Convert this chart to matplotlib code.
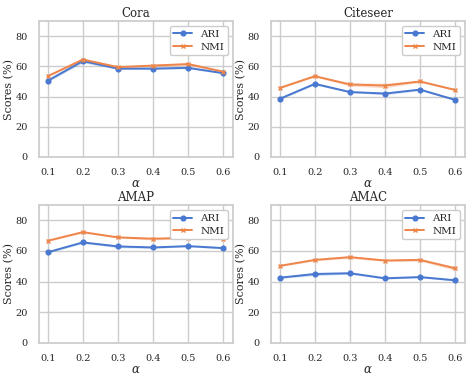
import matplotlib
matplotlib.use("Agg")
import matplotlib.pyplot as plt
import numpy as np
import seaborn as sns

# ---- data ----
alphas = [0.1, 0.2, 0.3, 0.4, 0.5, 0.6]
datasets = ["Cora", "Citeseer", "AMAP", "AMAC"]

cora_ari = [50.5, 63.5, 58.5, 58.5, 59.0, 55.5]
cora_nmi = [53.5, 64.5, 59.5, 60.5, 61.5, 56.5]
cora_ari_std = [0.8, 1.0, 0.5, 0.6, 0.5, 0.5]
cora_nmi_std = [0.5, 0.8, 0.5, 0.8, 0.8, 0.5]

citeseer_ari = [38.5, 48.4, 43.0, 42.0, 44.6, 37.8]
citeseer_nmi = [45.7, 53.5, 48.0, 47.3, 50.0, 44.4]
citeseer_ari_std = [0.5, 0.6, 0.5, 0.8, 0.6, 0.5]
citeseer_nmi_std = [0.5, 0.6, 1.0, 1.5, 0.6, 0.5]

amap_ari = [59.2, 65.6, 63.0, 62.3, 63.2, 61.9]
amap_nmi = [66.7, 72.3, 68.9, 68.0, 68.6, 68.0]
amap_ari_std = [0.6, 0.6, 0.8, 0.5, 0.5, 0.5]
amap_nmi_std = [0.5, 0.5, 0.5, 0.8, 0.5, 0.5]

amac_ari = [42.6, 45.0, 45.5, 42.2, 43.0, 40.9]
amac_nmi = [50.3, 54.2, 56.0, 53.8, 54.2, 48.7]
amac_ari_std = [0.5, 1.0, 0.6, 0.5, 0.5, 0.5]
amac_nmi_std = [0.5, 0.6, 0.8, 0.6, 0.8, 1.2]

ari_all = [cora_ari, citeseer_ari, amap_ari, amac_ari]
nmi_all = [cora_nmi, citeseer_nmi, amap_nmi, amac_nmi]
ari_std_all = [cora_ari_std, citeseer_ari_std, amap_ari_std, amac_ari_std]
nmi_std_all = [cora_nmi_std, citeseer_nmi_std, amap_nmi_std, amac_nmi_std]

sns.set_theme(style="whitegrid")
plt.rcParams["font.family"] = ["DejaVu Serif"]
plt.rcParams["mathtext.fontset"] = "dejavuserif"

blue = "#4878d0"
orange = "#ee854a"

W, H = 474, 379
fig = plt.figure(figsize=(W / 100, H / 100), dpi=100)

# axes boxes in pixels: (left, top, right, bottom)
boxes = [(39, 21, 233, 157), (271, 21, 465, 157),
         (39, 205, 233, 343), (271, 205, 465, 343)]

x = np.array(alphas)
for box, name, ari, nmi, sa, sn in zip(boxes, datasets, ari_all, nmi_all,
                                       ari_std_all, nmi_std_all):
    l, t, r, b = box
    ax = fig.add_axes([l / W, 1 - b / H, (r - l) / W, (b - t) / H])
    ari = np.array(ari)
    nmi = np.array(nmi)
    sa = np.array(sa)
    sn = np.array(sn)
    ax.plot(x, ari, color=blue, marker="o", markersize=3.4, lw=1.4, label="ARI")
    ax.fill_between(x, ari - sa, ari + sa, color=blue, alpha=0.3, lw=0)
    ax.plot(x, nmi, color=orange, marker="x", markersize=3.4, lw=1.4, label="NMI")
    ax.fill_between(x, nmi - sn, nmi + sn, color=orange, alpha=0.3, lw=0)
    ax.set_title(name, fontsize=8.5, pad=3)
    ax.set_ylim(0, 90)
    ax.set_yticks([0, 20, 40, 60, 80])
    ax.set_xticks(alphas)
    ax.set_xlim(0.075, 0.628)
    ax.tick_params(labelsize=7, pad=2)
    ax.set_xlabel(r"$\alpha$", fontsize=8.5, labelpad=0)
    ax.set_ylabel("Scores (%)", fontsize=8)
    ax.yaxis.set_label_coords(-0.128, 0.5)
    ax.legend(loc="upper right", fontsize=7.5, handlelength=1.8,
              borderpad=0.35, labelspacing=0.3, framealpha=1)

fig.savefig("out.png", dpi=100)
